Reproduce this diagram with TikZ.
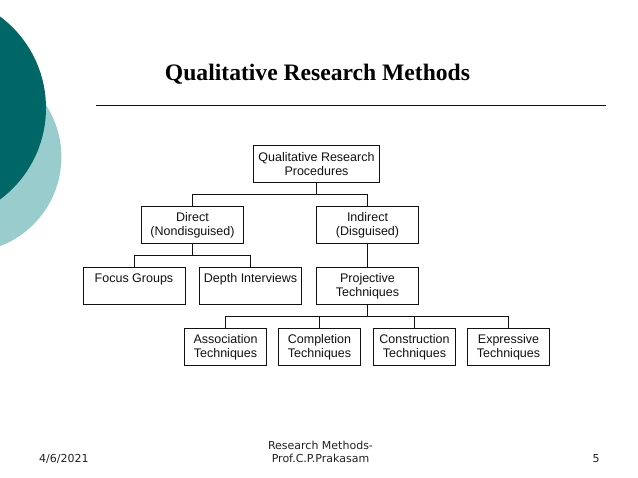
\documentclass[tikz,border=0pt]{standalone}
\usepackage{fontspec}
\setmainfont{Liberation Sans}
\newfontfamily\titlefont{Liberation Serif}
\newfontfamily\footfont{DejaVu Sans}
\definecolor{darkteal}{HTML}{006666}
\definecolor{lightteal}{HTML}{99CCCC}
\definecolor{boxline}{HTML}{111111}
\definecolor{foottext}{HTML}{222222}
\tikzset{
  bx/.style={draw=boxline,line width=1pt,outer sep=0pt,fill=white,minimum width=#1,minimum height=37pt,inner sep=0pt,align=center,font=\fontsize{12.5pt}{14pt}\selectfont,text=boxline},
  lbl/.style={inner sep=0pt,anchor=base,font=\fontsize{12.5pt}{14pt}\selectfont,text=boxline},
  conn/.style={draw=boxline,line width=1pt},
  foot/.style={font=\footfont\fontsize{11pt}{13pt}\selectfont,text=foottext,align=center,inner sep=0pt}
}
\begin{document}
\begin{tikzpicture}[x=1pt,y=-1pt]
\useasboundingbox (0,0) rectangle (638,478);
\fill[white] (0,0) rectangle (638,478);
\begin{scope}
\clip (0,0) rectangle (638,478);
\fill[lightteal] (-34,157) circle[radius=95.4pt];
\fill[darkteal] (-68,108) circle[radius=114pt];
\end{scope}
\node[inner sep=0pt,font=\titlefont\bfseries\fontsize{23.6pt}{26pt}\selectfont,text=black] (title) at (317.5,74) {Qualitative Research Methods};
\coordinate (ruleL) at (96,105.5);
\coordinate (ruleR) at (606,105.5);
\draw[line width=1pt,draw=boxline] (ruleL) -- (ruleR);

\node[bx=126pt] (root) at (316.5,164) {Qualitative Research\\Procedures};
\node[bx=102pt] (direct) at (192.5,225) {Direct\\(Nondisguised)};
\node[bx=102pt] (indirect) at (367.5,225) {Indirect\\(Disguised)};
\node[bx=102pt] (focus) at (134.5,286) {};
\node[bx=102pt] (depth) at (250.5,286) {};
\node[lbl] (focusT) at (134,282.5) {Focus Groups};
\node[lbl] (depthT) at (250.5,282.5) {Depth Interviews};
\node[bx=102pt] (proj) at (367.5,286) {Projective\\Techniques};
\node[bx=82pt] (assoc) at (225.5,347) {Association\\Techniques};
\node[bx=82pt] (compl) at (319.5,347) {Completion\\Techniques};
\node[bx=82pt] (constr) at (414.5,347) {Construction\\Techniques};
\node[bx=82pt] (expr) at (508.5,347) {Expressive\\Techniques};

\draw[conn] (root.south) -- ++(0,12) coordinate (j1);
\draw[conn] (direct.north) |- (j1) -| (indirect.north);
\draw[conn] (direct.south) -- ++(0,12) coordinate (j2);
\draw[conn] (focus.north) |- (j2) -| (depth.north);
\draw[conn] (indirect.south) -- (proj.north);
\draw[conn] (proj.south) -- ++(0,12) coordinate (j3);
\draw[conn] (assoc.north) |- (j3) -| (expr.north);
\draw[conn] (compl.north) -- (compl.north |- j3);
\draw[conn] (constr.north) -- (constr.north |- j3);

\node[foot,anchor=west] (date) at (39,458.5) {4/6/2021};
\node[foot] (footmid) at (320.5,451.5) {Research Methods-\\Prof.C.P.Prakasam};
\node[foot] (page) at (596,458.5) {5};
\end{tikzpicture}
\end{document}
